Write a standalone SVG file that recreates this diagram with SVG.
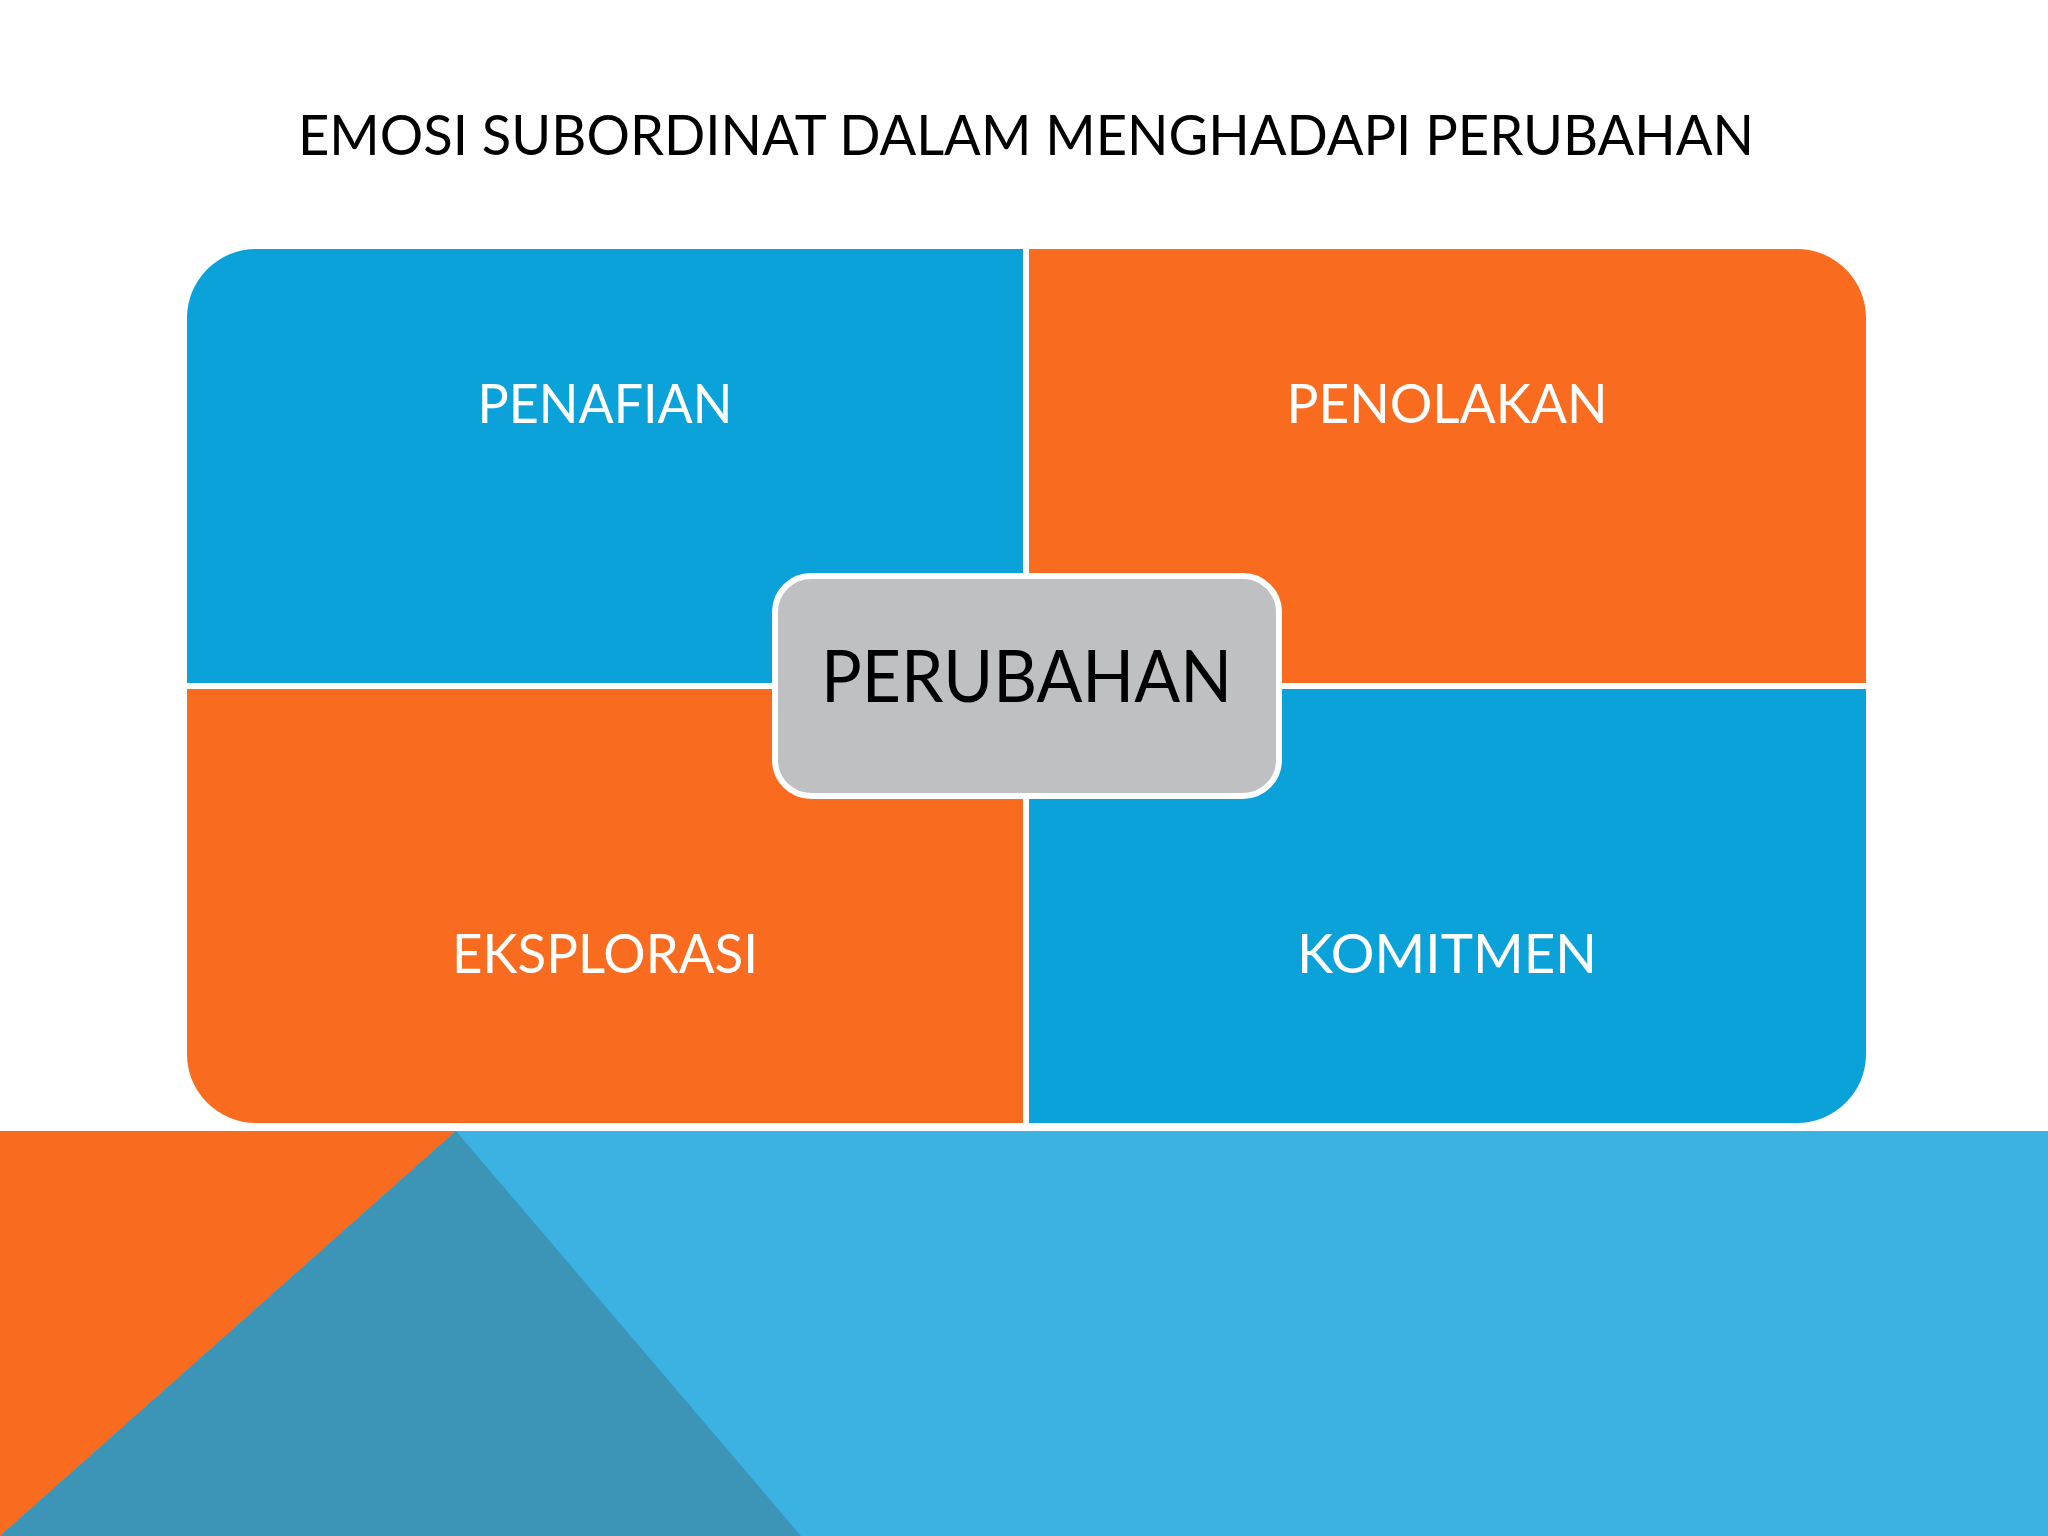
<svg xmlns="http://www.w3.org/2000/svg" width="2048" height="1536" viewBox="0 0 2048 1536">
<style>
.lbl{font-family:Lato,"Open Sans","Liberation Sans",sans-serif;font-size:54px;font-weight:400;fill:#ffffff;text-anchor:middle}
.blue{fill:#0BA1D9}
.orange{fill:#F96B1E}
</style>
<rect x="0" y="0" width="2048" height="1536" fill="#ffffff"/>
<g id="background-band">
<rect x="0" y="1131" width="2048" height="405" fill="#3CB2E2"/>
<polygon points="0,1131 456,1131 0,1536" fill="#F96B1E"/>
<polygon points="456,1131 801,1536 0,1536" fill="#3C95B7"/>
</g>
<text id="title" x="1026" y="155" font-family="Lato,'Liberation Sans',Arial,sans-serif" font-size="56" font-weight="400" fill="#000000" text-anchor="middle" textLength="1456" lengthAdjust="spacingAndGlyphs">EMOSI SUBORDINAT DALAM MENGHADAPI PERUBAHAN</text>
<g id="node-penafian">
<path class="blue" d="M187,683 L187,318 A69,69 0 0 1 256,249 L1023,249 L1023,683 Z"/>
<text class="lbl" x="605" y="423" textLength="255" lengthAdjust="spacingAndGlyphs">PENAFIAN</text>
</g>
<g id="node-penolakan">
<path class="orange" d="M1029,249 L1797,249 A69,69 0 0 1 1866,318 L1866,683 L1029,683 Z"/>
<text class="lbl" x="1447" y="423" textLength="321" lengthAdjust="spacingAndGlyphs">PENOLAKAN</text>
</g>
<g id="node-eksplorasi">
<path class="orange" d="M187,689 L1023,689 L1023,1123 L256,1123 A69,69 0 0 1 187,1054 Z"/>
<text class="lbl" x="605" y="973" textLength="306" lengthAdjust="spacingAndGlyphs">EKSPLORASI</text>
</g>
<g id="node-komitmen">
<path class="blue" d="M1029,689 L1866,689 L1866,1054 A69,69 0 0 1 1797,1123 L1029,1123 Z"/>
<text class="lbl" x="1447" y="973" textLength="300" lengthAdjust="spacingAndGlyphs">KOMITMEN</text>
</g>
<g id="connectors"></g>
<g id="node-perubahan">
<rect x="775" y="576" width="504" height="220" rx="36" ry="36" fill="#BFC0C2" stroke="#ffffff" stroke-width="6"/>
<text x="1026.5" y="702" font-family="Lato,'Open Sans','Liberation Sans',sans-serif" font-size="72" font-weight="400" fill="#000000" text-anchor="middle" textLength="411" lengthAdjust="spacingAndGlyphs">PERUBAHAN</text>
</g>
</svg>
